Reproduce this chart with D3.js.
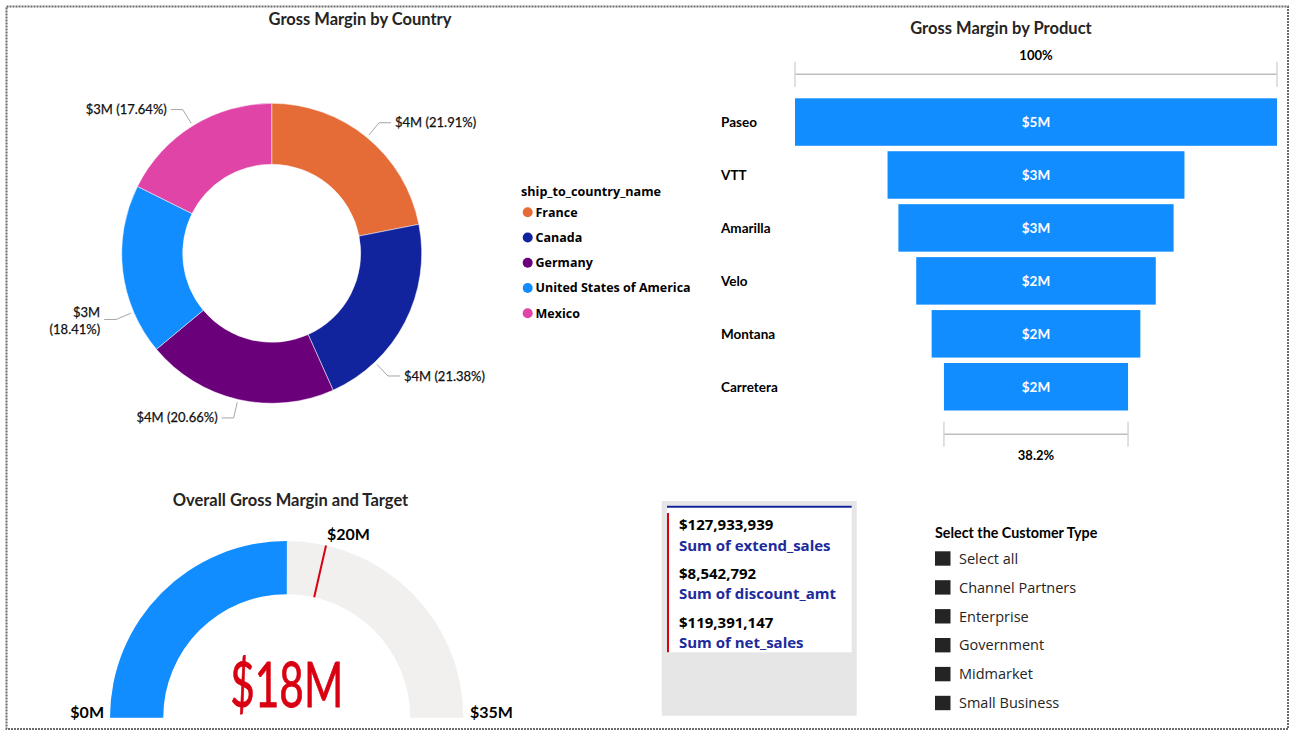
<!DOCTYPE html>
<html>
<head>
<meta charset="utf-8">
<script src="https://cdn.jsdelivr.net/npm/d3@7"></script>
<style>
  html, body { margin: 0; padding: 0; background: #ffffff; }
  svg { display: block; }
</style>
</head>
<body>
<svg id="chart" width="1306" height="745"></svg>
<script>
// ---------------- DATA ----------------
const countries = ["France", "Canada", "Germany", "United States of America", "Mexico"];
const countryMarginM = [3.836, 3.744, 3.618, 3.224, 3.089];

const products = ["Paseo", "VTT", "Amarilla", "Velo", "Montana", "Carretera"];
const productMarginM = [5.0, 3.08, 2.855, 2.485, 2.165, 1.91];

const gaugeMin = 0;
const gaugeMax = 35;
const gaugeValue = 17.51;
const gaugeTarget = 20;

const cardValues = [127933939, 8542792, 119391147];
const cardLabels = ["Sum of extend_sales", "Sum of discount_amt", "Sum of net_sales"];

const customerTypes = ["Select all", "Channel Partners", "Enterprise", "Government", "Midmarket", "Small Business"];

// ---------------- STYLE ----------------
const countryColor = d3.scaleOrdinal()
  .domain(countries)
  .range(["#E66C37", "#12239E", "#6B007B", "#118DFF", "#E044A7"]);
const BLUE = "#118DFF";
const TXT = "#252423";
const DIN = "Lato, 'Noto Sans', sans-serif";
const SEGOE = "'Open Sans', 'Noto Sans', sans-serif";

const svg = d3.select("#chart");

// page border (dotted)
svg.append("rect")
  .attr("x", 6.5).attr("y", 6.5).attr("width", 1281.5).attr("height", 722.5)
  .attr("fill", "none").attr("stroke", "#6b6b6b")
  .attr("stroke-width", 2).attr("stroke-dasharray", "2,1");

function title(x, y, text) {
  svg.append("text").attr("x", x).attr("y", y)
    .attr("text-anchor", "middle")
    .attr("font-family", DIN).attr("font-weight", 700).attr("font-size", 16.5)
    .attr("fill", TXT).text(text);
}

// ---------------- DONUT ----------------
title(360, 25, "Gross Margin by Country");
const donutCx = 271.7, donutCy = 253.3, R = 150, r0 = 89;
const total = d3.sum(countryMarginM);
const pie = d3.pie().sort(null).value(d => d.v);
const arcs = pie(countries.map((c, i) => ({ c, v: countryMarginM[i] })));
const arc = d3.arc().innerRadius(r0).outerRadius(R);
const gDonut = svg.append("g").attr("transform", `translate(${donutCx},${donutCy})`);
gDonut.selectAll("path.slice").data(arcs).join("path")
  .attr("class", "slice")
  .attr("d", arc)
  .attr("fill", d => countryColor(d.data.c))
  .attr("stroke", "#ffffff").attr("stroke-width", 0.5);

// label placement (Power BI moves some labels off the slice midpoint to avoid collisions)
const labelAngleShiftDeg = { "Canada": 19.2, "United States of America": -16.4 };
const fmtM = v => "$" + Math.round(v) + "M";
arcs.forEach(d => {
  const mid = (d.startAngle + d.endAngle) / 2 + ((labelAngleShiftDeg[d.data.c] || 0) * Math.PI / 180);
  const s = Math.sin(mid), c = -Math.cos(mid);
  const p1 = [153 * s, 153 * c], p2 = [169 * s, 169 * c];
  const right = s > 0;
  const p3 = [p2[0] + (right ? 12 : -12), p2[1]];
  gDonut.append("polyline")
    .attr("points", [p1, p2, p3].map(p => p.join(",")).join(" "))
    .attr("fill", "none").attr("stroke", "#a6a6a6").attr("stroke-width", 1);
  const pct = (d.data.v / total * 100).toFixed(2) + "%";
  const tx = p3[0] + (right ? 4 : -4);
  const t = gDonut.append("text")
    .attr("x", tx).attr("y", p3[1])
    .attr("text-anchor", right ? "start" : "end")
    .attr("font-family", DIN).attr("font-size", 13).attr("fill", "#111")
    .attr("stroke", "#111").attr("stroke-width", 0.25)
    .attr("dy", "0.35em")
    .text(fmtM(d.data.v) + " (" + pct + ")");
  const w = t.node().getComputedTextLength();
  const leftEdge = donutCx + (right ? tx : tx - w);
  if (!right && leftEdge < 30) {
    t.text(null).attr("dy", null);
    t.append("tspan").attr("x", tx).attr("dy", "-0.17em").text(fmtM(d.data.v));
    t.append("tspan").attr("x", tx).attr("dy", "1.28em").text("(" + pct + ")");
  }
});

// legend
const gLeg = svg.append("g");
gLeg.append("text").attr("x", 521).attr("y", 191.7).attr("dy", "0.35em")
  .attr("font-family", SEGOE).attr("font-weight", 700).attr("font-size", 12.6)
  .attr("fill", "#000").text("ship_to_country_name");
const legY = d3.scalePoint().domain(countries).range([212.3, 313.3]);
countries.forEach(c => {
  gLeg.append("circle").attr("cx", 527.7).attr("cy", legY(c)).attr("r", 5)
    .attr("fill", countryColor(c));
  gLeg.append("text").attr("x", 535.5).attr("y", legY(c)).attr("dy", "0.35em")
    .attr("font-family", SEGOE).attr("font-weight", 700).attr("font-size", 12.5)
    .attr("fill", "#000").text(c);
});

// ---------------- FUNNEL ----------------
title(1001, 34, "Gross Margin by Product");
const funnelCx = 1036;
const fx = d3.scaleLinear().domain([0, d3.max(productMarginM)]).range([0, 482]);
const fy = d3.scaleBand().domain(products).range([98.3, 410.5]).paddingInner(0.103).paddingOuter(0);
const gF = svg.append("g");
gF.selectAll("rect.bar").data(products).join("rect")
  .attr("class", "bar")
  .attr("x", (p, i) => funnelCx - fx(productMarginM[i]) / 2)
  .attr("y", p => fy(p))
  .attr("width", (p, i) => fx(productMarginM[i]))
  .attr("height", fy.bandwidth())
  .attr("fill", BLUE);
gF.selectAll("text.val").data(products).join("text")
  .attr("class", "val")
  .attr("x", funnelCx).attr("y", p => fy(p) + fy.bandwidth() / 2).attr("dy", "0.36em")
  .attr("text-anchor", "middle")
  .attr("font-family", DIN).attr("font-weight", 700).attr("font-size", 13.5)
  .attr("fill", "#ffffff")
  .text((p, i) => fmtM(productMarginM[i]));
gF.selectAll("text.cat").data(products).join("text")
  .attr("class", "cat")
  .attr("x", 721).attr("y", p => fy(p) + fy.bandwidth() / 2).attr("dy", "0.36em")
  .attr("font-family", DIN).attr("font-weight", 700).attr("font-size", 13.5)
  .attr("fill", "#000").text(p => p);

function bracket(width, yLine, yText, label) {
  const x0 = funnelCx - width / 2, x1 = funnelCx + width / 2;
  gF.append("line").attr("x1", x0).attr("x2", x1).attr("y1", yLine).attr("y2", yLine)
    .attr("stroke", "#bdbdbd").attr("stroke-width", 1.5);
  [x0, x1].forEach(x => gF.append("line").attr("x1", x).attr("x2", x)
    .attr("y1", yLine - 12.5).attr("y2", yLine + 12.5)
    .attr("stroke", "#d6d6d6").attr("stroke-width", 1.5));
  gF.append("text").attr("x", funnelCx).attr("y", yText).attr("dy", "0.36em")
    .attr("text-anchor", "middle")
    .attr("font-family", DIN).attr("font-weight", 700).attr("font-size", 13)
    .attr("fill", "#000").text(label);
}
const first = productMarginM[0], last = productMarginM[productMarginM.length - 1];
bracket(fx(first), 74.3, 55.7, "100%");
bracket(fx(last), 434.3, 455.7, (last / first * 100).toFixed(1) + "%");

// ---------------- GAUGE ----------------
title(290.5, 506, "Overall Gross Margin and Target");
const gCx = 286.7, gCy = 717.7, gR = 176.7, gr = 123.5;
const ga = d3.scaleLinear().domain([gaugeMin, gaugeMax]).range([-Math.PI / 2, Math.PI / 2]);
const gG = svg.append("g").attr("transform", `translate(${gCx},${gCy})`);
const garc = d3.arc().innerRadius(gr).outerRadius(gR);
gG.append("path").attr("d", garc({ startAngle: ga(gaugeMin), endAngle: ga(gaugeMax) })).attr("fill", "#F1F0EF");
gG.append("path").attr("d", garc({ startAngle: ga(gaugeMin), endAngle: ga(gaugeValue) })).attr("fill", BLUE);
const ta = ga(gaugeTarget);
gG.append("line")
  .attr("x1", gr * Math.sin(ta)).attr("y1", -gr * Math.cos(ta))
  .attr("x2", gR * Math.sin(ta)).attr("y2", -gR * Math.cos(ta))
  .attr("stroke", "#D90012").attr("stroke-width", 2);
const gFmt = v => "$" + Math.round(v) + "M";
gG.append("text").attr("x", gR * Math.sin(ta) + 1).attr("y", -gR * Math.cos(ta) - 5)
  .attr("font-family", DIN).attr("font-weight", 700).attr("font-size", 16)
  .attr("fill", "#000").text(gFmt(gaugeTarget));
gG.append("text").attr("x", -gR - 6).attr("y", 0).attr("text-anchor", "end")
  .attr("font-family", DIN).attr("font-weight", 700).attr("font-size", 16)
  .attr("fill", "#000").text(gFmt(gaugeMin));
gG.append("text").attr("x", gR + 6.5).attr("y", 0).attr("text-anchor", "start")
  .attr("font-family", DIN).attr("font-weight", 700).attr("font-size", 16)
  .attr("fill", "#000").text(gFmt(gaugeMax));
gG.append("text").attr("x", -56.5).attr("y", -11)
  .attr("font-family", DIN).attr("font-size", 62)
  .attr("stroke", "#D90012").attr("stroke-width", 0.8)
  .attr("textLength", 113).attr("lengthAdjust", "spacingAndGlyphs")
  .attr("fill", "#D90012").text(gFmt(gaugeValue));

// ---------------- MULTI-ROW CARD ----------------
const gC = svg.append("g");
gC.append("rect").attr("x", 661.7).attr("y", 501).attr("width", 195).attr("height", 214.7).attr("fill", "#E6E6E6");
gC.append("rect").attr("x", 667).attr("y", 505.7).attr("width", 184.7).attr("height", 146.6).attr("fill", "#ffffff");
gC.append("line").attr("x1", 667).attr("x2", 851.7).attr("y1", 506.7).attr("y2", 506.7)
  .attr("stroke", "#12239E").attr("stroke-width", 2);
gC.append("line").attr("x1", 668).attr("x2", 668).attr("y1", 513).attr("y2", 652.3)
  .attr("stroke", "#D90012").attr("stroke-width", 2);
const cardY = d3.scalePoint().domain(d3.range(cardValues.length)).range([530, 627.7]);
const fmtUSD = d3.format("$,.0f");
cardValues.forEach((v, i) => {
  gC.append("text").attr("x", 679).attr("y", cardY(i))
    .attr("font-family", SEGOE).attr("font-weight", 700).attr("font-size", 15)
    .attr("fill", "#000").text(fmtUSD(v));
  gC.append("text").attr("x", 679).attr("y", cardY(i) + 20.5)
    .attr("font-family", SEGOE).attr("font-weight", 700).attr("font-size", 15)
    .attr("fill", "#1C2A9C").text(cardLabels[i]);
});

// ---------------- SLICER ----------------
const gS = svg.append("g");
gS.append("text").attr("x", 935).attr("y", 537.7)
  .attr("font-family", DIN).attr("font-weight", 700).attr("font-size", 14.3)
  .attr("fill", "#000").text("Select the Customer Type");
const sy = d3.scalePoint().domain(customerTypes).range([558.5, 703]);
customerTypes.forEach(t => {
  gS.append("rect").attr("x", 935).attr("y", sy(t) - 7.2).attr("width", 15.5).attr("height", 14.4)
    .attr("fill", "#252423");
  gS.append("text").attr("x", 959).attr("y", sy(t)).attr("dy", "0.36em")
    .attr("font-family", SEGOE).attr("font-size", 14.5)
    .attr("fill", "#252423").text(t);
});
</script>
</body>
</html>
